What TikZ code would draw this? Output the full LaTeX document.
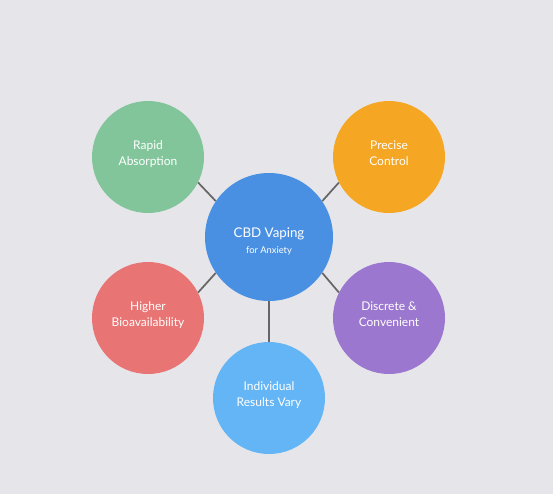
\documentclass[tikz,border=0pt]{standalone}
\usepackage{fontspec}
\setmainfont{Lato}
\usepackage{tikz}
\definecolor{bgcol}{HTML}{E6E6EA}
\definecolor{hubcol}{HTML}{4A90E2}
\definecolor{greencol}{HTML}{82C59B}
\definecolor{orangecol}{HTML}{F5A623}
\definecolor{redcol}{HTML}{E87474}
\definecolor{purplecol}{HTML}{9B77CF}
\definecolor{skycol}{HTML}{64B5F6}
\definecolor{linkcol}{HTML}{666666}
\newcommand{\lbl}[3][2pt]{\raisebox{#1}[\height][\depth]{\begin{tabular}{@{}c@{}}#2\\#3\end{tabular}}}
\tikzset{
	hub/.style={circle,fill=hubcol,text=white,inner sep=0pt,minimum size=96pt,align=center},
	leaf/.style={circle,inner sep=0pt,minimum size=84pt,text=white,align=center,font=\fontsize{9}{12}\selectfont},
	link/.style={draw=linkcol,line width=1.3pt}
}
\begin{document}
\begin{tikzpicture}[x=0.75pt,y=-0.75pt]
	\fill[bgcol] (0,0) rectangle (553,494);
	\useasboundingbox (0,0) rectangle (553,494);
	\node[hub] (0) at (269,237) {\lbl[-4pt]{\fontsize{10}{13}\selectfont CBD Vaping}{\fontsize{7}{12}\selectfont for Anxiety}};
	\node[leaf,fill=greencol] (1) at (148,157) {\lbl{Rapid}{Absorption}};
	\node[leaf,fill=orangecol] (2) at (389,157) {\lbl{Precise}{Control}};
	\node[leaf,fill=redcol] (3) at (148,318) {\lbl{Higher}{Bioavailability}};
	\node[leaf,fill=purplecol] (4) at (389,318) {\lbl{Discrete \&}{Convenient}};
	\node[leaf,fill=skycol] (5) at (269,398) {\lbl{Individual}{Results Vary}};
	%
	\draw [link] (0.146) -- (1.333);
	\draw [link] (0.34) -- (2.207);
	\draw [link] (0.214) -- (3.27);
	\draw [link] (0.326) -- (4.153);
	\draw [link] (0.south) -- (5.north);
\end{tikzpicture}
\end{document}
